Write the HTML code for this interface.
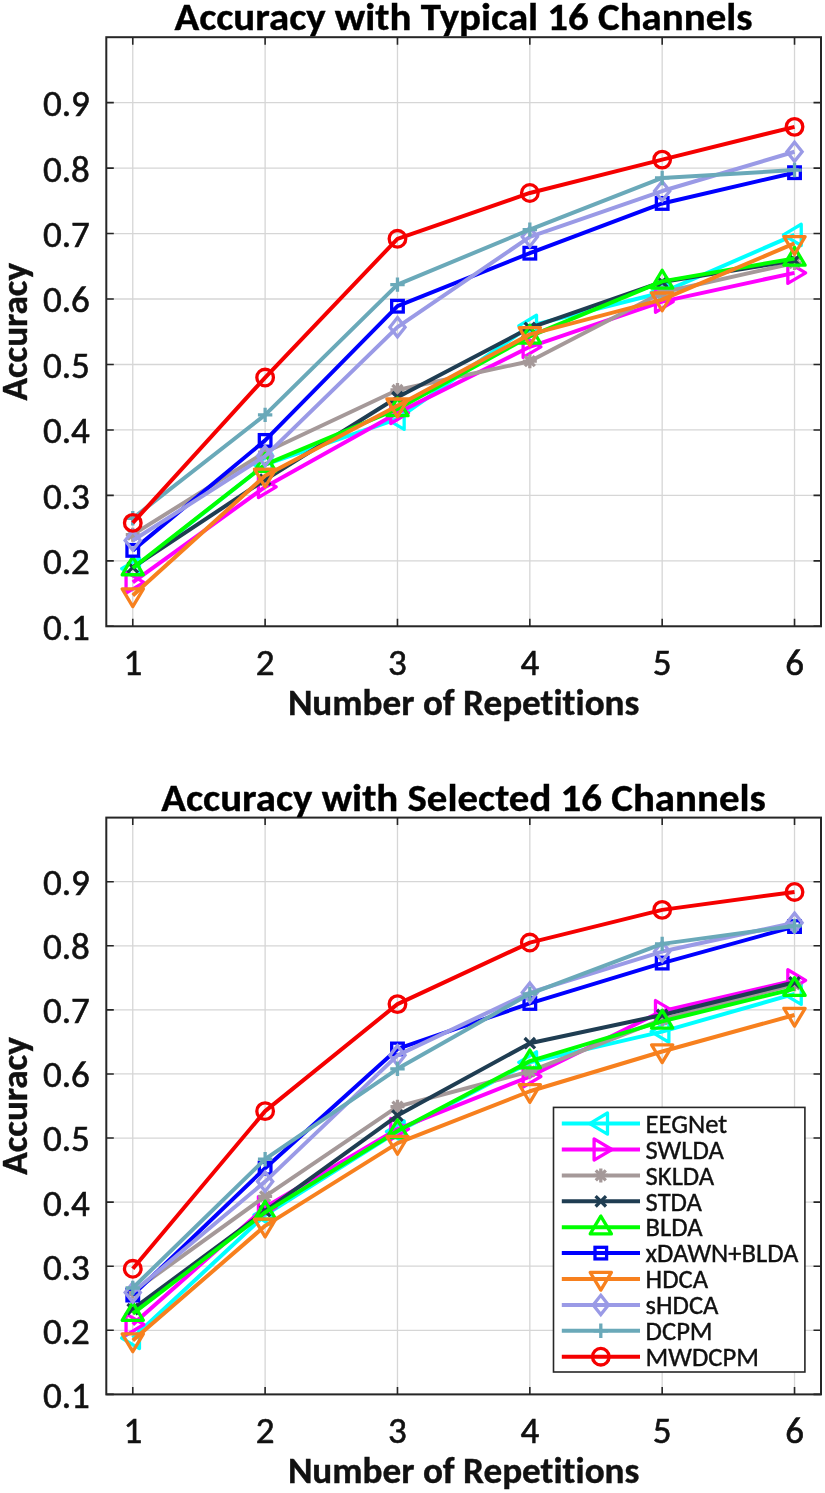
<!DOCTYPE html>
<html><head><meta charset="utf-8"><title>Accuracy plots</title>
<style>html,body{margin:0;padding:0;background:#fff;width:825px;height:1493px;overflow:hidden}svg{display:block}</style>
</head><body>
<svg width="825" height="1493" viewBox="0 0 825 1493">
<rect width="825" height="1493" fill="#fff"/>
<path d="M132.77 37.2V626.3M265.12 37.2V626.3M397.47 37.2V626.3M529.83 37.2V626.3M662.18 37.2V626.3M794.53 37.2V626.3M106.3 626.3H821M106.3 560.84H821M106.3 495.39H821M106.3 429.93H821M106.3 364.48H821M106.3 299.02H821M106.3 233.57H821M106.3 168.11H821M106.3 102.66H821" stroke="#d6d6d6" stroke-width="1.3" fill="none"/>
<g fill="none" stroke-linecap="butt">
<path d="M132.77 568.7L265.12 464.62L397.47 418.81L529.83 325.86L662.18 292.48L794.53 234.88" stroke="#00ffff" stroke-width="4.0" stroke-linejoin="round"/>
<path d="M139.47 558.1L139.47 579.3L121.67 568.7Z" stroke="#00ffff" stroke-width="3.3" fill="none" stroke-linejoin="round"/>
<path d="M271.82 454.02L271.82 475.22L254.02 464.62Z" stroke="#00ffff" stroke-width="3.3" fill="none" stroke-linejoin="round"/>
<path d="M404.17 408.21L404.17 429.41L386.37 418.81Z" stroke="#00ffff" stroke-width="3.3" fill="none" stroke-linejoin="round"/>
<path d="M536.53 315.26L536.53 336.46L518.73 325.86Z" stroke="#00ffff" stroke-width="3.3" fill="none" stroke-linejoin="round"/>
<path d="M668.88 281.88L668.88 303.08L651.08 292.48Z" stroke="#00ffff" stroke-width="3.3" fill="none" stroke-linejoin="round"/>
<path d="M801.23 224.28L801.23 245.48L783.43 234.88Z" stroke="#00ffff" stroke-width="3.3" fill="none" stroke-linejoin="round"/>
<path d="M132.77 582.44L265.12 486.88L397.47 412.91L529.83 346.8L662.18 301.64L794.53 272.84" stroke="#ff00ff" stroke-width="4.0" stroke-linejoin="round"/>
<path d="M126.07 571.84L126.07 593.04L143.87 582.44Z" stroke="#ff00ff" stroke-width="3.3" fill="none" stroke-linejoin="round"/>
<path d="M258.42 476.28L258.42 497.48L276.22 486.88Z" stroke="#ff00ff" stroke-width="3.3" fill="none" stroke-linejoin="round"/>
<path d="M390.77 402.31L390.77 423.51L408.57 412.91Z" stroke="#ff00ff" stroke-width="3.3" fill="none" stroke-linejoin="round"/>
<path d="M523.13 336.2L523.13 357.4L540.93 346.8Z" stroke="#ff00ff" stroke-width="3.3" fill="none" stroke-linejoin="round"/>
<path d="M655.48 291.04L655.48 312.24L673.28 301.64Z" stroke="#ff00ff" stroke-width="3.3" fill="none" stroke-linejoin="round"/>
<path d="M787.83 262.24L787.83 283.44L805.63 272.84Z" stroke="#ff00ff" stroke-width="3.3" fill="none" stroke-linejoin="round"/>
<path d="M132.77 534.66L265.12 452.19L397.47 390.01L529.83 361.2L662.18 292.48L794.53 263.02" stroke="#a59999" stroke-width="4.0" stroke-linejoin="round"/>
<path d="M125.77 534.66H139.77M132.77 527.66V541.66M127.77 529.66L137.77 539.66M127.77 539.66L137.77 529.66" stroke="#a59999" stroke-width="3.3" fill="none"/>
<path d="M258.12 452.19H272.12M265.12 445.19V459.19M260.12 447.19L270.12 457.19M260.12 457.19L270.12 447.19" stroke="#a59999" stroke-width="3.3" fill="none"/>
<path d="M390.47 390.01H404.47M397.47 383.01V397.01M392.47 385.01L402.47 395.01M392.47 395.01L402.47 385.01" stroke="#a59999" stroke-width="3.3" fill="none"/>
<path d="M522.83 361.2H536.83M529.83 354.2V368.2M524.83 356.2L534.83 366.2M524.83 366.2L534.83 356.2" stroke="#a59999" stroke-width="3.3" fill="none"/>
<path d="M655.18 292.48H669.18M662.18 285.48V299.48M657.18 287.48L667.18 297.48M657.18 297.48L667.18 287.48" stroke="#a59999" stroke-width="3.3" fill="none"/>
<path d="M787.53 263.02H801.53M794.53 256.02V270.02M789.53 258.02L799.53 268.02M789.53 268.02L799.53 258.02" stroke="#a59999" stroke-width="3.3" fill="none"/>
<path d="M132.77 567.39L265.12 479.68L397.47 397.21L529.83 327.82L662.18 282L794.53 260.4" stroke="#1f3d52" stroke-width="4.0" stroke-linejoin="round"/>
<path d="M127.57 562.19L137.97 572.59M127.57 572.59L137.97 562.19" stroke="#1f3d52" stroke-width="3.3" fill="none"/>
<path d="M259.92 474.48L270.32 484.88M259.92 484.88L270.32 474.48" stroke="#1f3d52" stroke-width="3.3" fill="none"/>
<path d="M392.27 392.01L402.67 402.41M392.27 402.41L402.67 392.01" stroke="#1f3d52" stroke-width="3.3" fill="none"/>
<path d="M524.63 322.62L535.03 333.02M524.63 333.02L535.03 322.62" stroke="#1f3d52" stroke-width="3.3" fill="none"/>
<path d="M656.98 276.8L667.38 287.2M656.98 287.2L667.38 276.8" stroke="#1f3d52" stroke-width="3.3" fill="none"/>
<path d="M789.33 255.2L799.73 265.6M789.33 265.6L799.73 255.2" stroke="#1f3d52" stroke-width="3.3" fill="none"/>
<path d="M132.77 568.04L265.12 464.62L397.47 408.99L529.83 336.33L662.18 281.35L794.53 258.44" stroke="#00ff00" stroke-width="4.0" stroke-linejoin="round"/>
<path d="M122.17 574.74L143.37 574.74L132.77 556.94Z" stroke="#00ff00" stroke-width="3.3" fill="none" stroke-linejoin="round"/>
<path d="M254.52 471.32L275.72 471.32L265.12 453.52Z" stroke="#00ff00" stroke-width="3.3" fill="none" stroke-linejoin="round"/>
<path d="M386.87 415.69L408.07 415.69L397.47 397.89Z" stroke="#00ff00" stroke-width="3.3" fill="none" stroke-linejoin="round"/>
<path d="M519.23 343.03L540.43 343.03L529.83 325.23Z" stroke="#00ff00" stroke-width="3.3" fill="none" stroke-linejoin="round"/>
<path d="M651.58 288.05L672.78 288.05L662.18 270.25Z" stroke="#00ff00" stroke-width="3.3" fill="none" stroke-linejoin="round"/>
<path d="M783.93 265.14L805.13 265.14L794.53 247.34Z" stroke="#00ff00" stroke-width="3.3" fill="none" stroke-linejoin="round"/>
<path d="M132.77 550.37L265.12 440.41L397.47 306.22L529.83 253.2L662.18 203.46L794.53 172.69" stroke="#0000ff" stroke-width="4.0" stroke-linejoin="round"/>
<rect x="126.97" y="544.57" width="11.6" height="11.6" stroke="#0000ff" stroke-width="3.3" fill="none"/>
<rect x="259.32" y="434.61" width="11.6" height="11.6" stroke="#0000ff" stroke-width="3.3" fill="none"/>
<rect x="391.67" y="300.42" width="11.6" height="11.6" stroke="#0000ff" stroke-width="3.3" fill="none"/>
<rect x="524.03" y="247.4" width="11.6" height="11.6" stroke="#0000ff" stroke-width="3.3" fill="none"/>
<rect x="656.38" y="197.66" width="11.6" height="11.6" stroke="#0000ff" stroke-width="3.3" fill="none"/>
<rect x="788.73" y="166.89" width="11.6" height="11.6" stroke="#0000ff" stroke-width="3.3" fill="none"/>
<path d="M132.77 595.54L265.12 475.75L397.47 405.71L529.83 334.37L662.18 299.68L794.53 243.38" stroke="#f7801e" stroke-width="4.0" stroke-linejoin="round"/>
<path d="M122.17 588.84L143.37 588.84L132.77 606.64Z" stroke="#f7801e" stroke-width="3.3" fill="none" stroke-linejoin="round"/>
<path d="M254.52 469.05L275.72 469.05L265.12 486.85Z" stroke="#f7801e" stroke-width="3.3" fill="none" stroke-linejoin="round"/>
<path d="M386.87 399.01L408.07 399.01L397.47 416.81Z" stroke="#f7801e" stroke-width="3.3" fill="none" stroke-linejoin="round"/>
<path d="M519.23 327.67L540.43 327.67L529.83 345.47Z" stroke="#f7801e" stroke-width="3.3" fill="none" stroke-linejoin="round"/>
<path d="M651.58 292.98L672.78 292.98L662.18 310.78Z" stroke="#f7801e" stroke-width="3.3" fill="none" stroke-linejoin="round"/>
<path d="M783.93 236.68L805.13 236.68L794.53 254.48Z" stroke="#f7801e" stroke-width="3.3" fill="none" stroke-linejoin="round"/>
<path d="M132.77 540.55L265.12 456.12L397.47 327.17L529.83 236.84L662.18 191.02L794.53 151.75" stroke="#9a9ae6" stroke-width="4.0" stroke-linejoin="round"/>
<path d="M132.77 530.95L140.37 540.55L132.77 550.15L125.17 540.55Z" stroke="#9a9ae6" stroke-width="3.3" fill="none" stroke-linejoin="miter"/>
<path d="M265.12 446.52L272.72 456.12L265.12 465.72L257.52 456.12Z" stroke="#9a9ae6" stroke-width="3.3" fill="none" stroke-linejoin="miter"/>
<path d="M397.47 317.57L405.07 327.17L397.47 336.77L389.87 327.17Z" stroke="#9a9ae6" stroke-width="3.3" fill="none" stroke-linejoin="miter"/>
<path d="M529.83 227.24L537.43 236.84L529.83 246.44L522.23 236.84Z" stroke="#9a9ae6" stroke-width="3.3" fill="none" stroke-linejoin="miter"/>
<path d="M662.18 181.42L669.78 191.02L662.18 200.62L654.58 191.02Z" stroke="#9a9ae6" stroke-width="3.3" fill="none" stroke-linejoin="miter"/>
<path d="M794.53 142.15L802.13 151.75L794.53 161.35L786.93 151.75Z" stroke="#9a9ae6" stroke-width="3.3" fill="none" stroke-linejoin="miter"/>
<path d="M132.77 518.3L265.12 414.88L397.47 284.62L529.83 229.64L662.18 177.93L794.53 170.07" stroke="#6aa9b9" stroke-width="4.0" stroke-linejoin="round"/>
<path d="M125.57 518.3H139.97M132.77 511.1V525.5" stroke="#6aa9b9" stroke-width="3.3" fill="none"/>
<path d="M257.92 414.88H272.32M265.12 407.68V422.08" stroke="#6aa9b9" stroke-width="3.3" fill="none"/>
<path d="M390.27 284.62H404.67M397.47 277.42V291.82" stroke="#6aa9b9" stroke-width="3.3" fill="none"/>
<path d="M522.63 229.64H537.03M529.83 222.44V236.84" stroke="#6aa9b9" stroke-width="3.3" fill="none"/>
<path d="M654.98 177.93H669.38M662.18 170.73V185.13" stroke="#6aa9b9" stroke-width="3.3" fill="none"/>
<path d="M787.33 170.07H801.73M794.53 162.87V177.27" stroke="#6aa9b9" stroke-width="3.3" fill="none"/>
<path d="M132.77 522.88L265.12 377.57L397.47 238.8L529.83 192.98L662.18 159.6L794.53 126.87" stroke="#f50000" stroke-width="4.0" stroke-linejoin="round"/>
<circle cx="132.77" cy="522.88" r="8.3" stroke="#f50000" stroke-width="3.3" fill="none"/>
<circle cx="265.12" cy="377.57" r="8.3" stroke="#f50000" stroke-width="3.3" fill="none"/>
<circle cx="397.47" cy="238.8" r="8.3" stroke="#f50000" stroke-width="3.3" fill="none"/>
<circle cx="529.83" cy="192.98" r="8.3" stroke="#f50000" stroke-width="3.3" fill="none"/>
<circle cx="662.18" cy="159.6" r="8.3" stroke="#f50000" stroke-width="3.3" fill="none"/>
<circle cx="794.53" cy="126.87" r="8.3" stroke="#f50000" stroke-width="3.3" fill="none"/>
</g>
<path d="M132.77 626.3v-7.5M132.77 37.2v7.5M265.12 626.3v-7.5M265.12 37.2v7.5M397.47 626.3v-7.5M397.47 37.2v7.5M529.83 626.3v-7.5M529.83 37.2v7.5M662.18 626.3v-7.5M662.18 37.2v7.5M794.53 626.3v-7.5M794.53 37.2v7.5M106.3 626.3h7.5M821 626.3h-7.5M106.3 560.84h7.5M821 560.84h-7.5M106.3 495.39h7.5M821 495.39h-7.5M106.3 429.93h7.5M821 429.93h-7.5M106.3 364.48h7.5M821 364.48h-7.5M106.3 299.02h7.5M821 299.02h-7.5M106.3 233.57h7.5M821 233.57h-7.5M106.3 168.11h7.5M821 168.11h-7.5M106.3 102.66h7.5M821 102.66h-7.5" stroke="#262626" stroke-width="1.6" fill="none"/>
<rect x="106.3" y="37.2" width="714.7" height="589.1" stroke="#262626" stroke-width="2" fill="none"/>
<g style="font-family:Carlito,'Liberation Sans',sans-serif;font-variant-ligatures:none;font-feature-settings:'liga' 0;font-size:37px" fill="#111" stroke="#111" stroke-width="0.6">
<text x="132.77" y="675.1" text-anchor="middle" textLength="18.77" lengthAdjust="spacingAndGlyphs">1</text>
<text x="265.12" y="675.1" text-anchor="middle" textLength="18.77" lengthAdjust="spacingAndGlyphs">2</text>
<text x="397.47" y="675.1" text-anchor="middle" textLength="18.77" lengthAdjust="spacingAndGlyphs">3</text>
<text x="529.83" y="675.1" text-anchor="middle" textLength="18.77" lengthAdjust="spacingAndGlyphs">4</text>
<text x="662.18" y="675.1" text-anchor="middle" textLength="18.77" lengthAdjust="spacingAndGlyphs">5</text>
<text x="794.53" y="675.1" text-anchor="middle" textLength="18.77" lengthAdjust="spacingAndGlyphs">6</text>
<text x="89.8" y="639.7" text-anchor="end" textLength="46.86" lengthAdjust="spacingAndGlyphs">0.1</text>
<text x="89.8" y="574.24" text-anchor="end" textLength="46.86" lengthAdjust="spacingAndGlyphs">0.2</text>
<text x="89.8" y="508.79" text-anchor="end" textLength="46.86" lengthAdjust="spacingAndGlyphs">0.3</text>
<text x="89.8" y="443.33" text-anchor="end" textLength="46.86" lengthAdjust="spacingAndGlyphs">0.4</text>
<text x="89.8" y="377.88" text-anchor="end" textLength="46.86" lengthAdjust="spacingAndGlyphs">0.5</text>
<text x="89.8" y="312.42" text-anchor="end" textLength="46.86" lengthAdjust="spacingAndGlyphs">0.6</text>
<text x="89.8" y="246.97" text-anchor="end" textLength="46.86" lengthAdjust="spacingAndGlyphs">0.7</text>
<text x="89.8" y="181.51" text-anchor="end" textLength="46.86" lengthAdjust="spacingAndGlyphs">0.8</text>
<text x="89.8" y="116.06" text-anchor="end" textLength="46.86" lengthAdjust="spacingAndGlyphs">0.9</text>
</g>
<text x="463.65" y="715.2" text-anchor="middle" style="font-family:Carlito,'Liberation Sans',sans-serif;font-variant-ligatures:none;font-feature-settings:'liga' 0;font-size:37.2px;font-weight:bold" fill="#111" stroke="#111" stroke-width="0.4" textLength="351.55" lengthAdjust="spacingAndGlyphs">Number of Repetitions</text>
<text transform="translate(27,331.75) rotate(-90)" x="0" y="0" text-anchor="middle" style="font-family:Carlito,'Liberation Sans',sans-serif;font-variant-ligatures:none;font-feature-settings:'liga' 0;font-size:37.2px;font-weight:bold" fill="#111" stroke="#111" stroke-width="0.4" textLength="137.55" lengthAdjust="spacingAndGlyphs">Accuracy</text>
<text transform="translate(463.5,30.3) scale(1,0.95)" x="0" y="0" text-anchor="middle" style="font-family:Carlito,'Liberation Sans',sans-serif;font-variant-ligatures:none;font-feature-settings:'liga' 0;font-size:40.9px;font-weight:bold" fill="#000" stroke="#000" stroke-width="0.4" textLength="578.24" lengthAdjust="spacingAndGlyphs">Accuracy with Typical 16 Channels</text>
<path d="M132.77 817.6V1394.4M265.12 817.6V1394.4M397.47 817.6V1394.4M529.83 817.6V1394.4M662.18 817.6V1394.4M794.53 817.6V1394.4M106.3 1394.4H821M106.3 1330.31H821M106.3 1266.22H821M106.3 1202.13H821M106.3 1138.04H821M106.3 1073.96H821M106.3 1009.87H821M106.3 945.78H821M106.3 881.69H821" stroke="#d6d6d6" stroke-width="1.3" fill="none"/>
<g fill="none" stroke-linecap="butt">
<path d="M132.77 1338L265.12 1214.95L397.47 1131.64L529.83 1062.42L662.18 1031.66L794.53 993.84" stroke="#00ffff" stroke-width="4.0" stroke-linejoin="round"/>
<path d="M139.47 1327.4L139.47 1348.6L121.67 1338Z" stroke="#00ffff" stroke-width="3.3" fill="none" stroke-linejoin="round"/>
<path d="M271.82 1204.35L271.82 1225.55L254.02 1214.95Z" stroke="#00ffff" stroke-width="3.3" fill="none" stroke-linejoin="round"/>
<path d="M404.17 1121.04L404.17 1142.24L386.37 1131.64Z" stroke="#00ffff" stroke-width="3.3" fill="none" stroke-linejoin="round"/>
<path d="M536.53 1051.82L536.53 1073.02L518.73 1062.42Z" stroke="#00ffff" stroke-width="3.3" fill="none" stroke-linejoin="round"/>
<path d="M668.88 1021.06L668.88 1042.26L651.08 1031.66Z" stroke="#00ffff" stroke-width="3.3" fill="none" stroke-linejoin="round"/>
<path d="M801.23 983.24L801.23 1004.44L783.43 993.84Z" stroke="#00ffff" stroke-width="3.3" fill="none" stroke-linejoin="round"/>
<path d="M132.77 1324.54L265.12 1207.26L397.47 1129.07L529.83 1076.52L662.18 1011.15L794.53 980.39" stroke="#ff00ff" stroke-width="4.0" stroke-linejoin="round"/>
<path d="M126.07 1313.94L126.07 1335.14L143.87 1324.54Z" stroke="#ff00ff" stroke-width="3.3" fill="none" stroke-linejoin="round"/>
<path d="M258.42 1196.66L258.42 1217.86L276.22 1207.26Z" stroke="#ff00ff" stroke-width="3.3" fill="none" stroke-linejoin="round"/>
<path d="M390.77 1118.47L390.77 1139.67L408.57 1129.07Z" stroke="#ff00ff" stroke-width="3.3" fill="none" stroke-linejoin="round"/>
<path d="M523.13 1065.92L523.13 1087.12L540.93 1076.52Z" stroke="#ff00ff" stroke-width="3.3" fill="none" stroke-linejoin="round"/>
<path d="M655.48 1000.55L655.48 1021.75L673.28 1011.15Z" stroke="#ff00ff" stroke-width="3.3" fill="none" stroke-linejoin="round"/>
<path d="M787.83 969.79L787.83 990.99L805.63 980.39Z" stroke="#ff00ff" stroke-width="3.3" fill="none" stroke-linejoin="round"/>
<path d="M132.77 1291.86L265.12 1196.37L397.47 1106.64L529.83 1071.39L662.18 1019.48L794.53 984.23" stroke="#a59999" stroke-width="4.0" stroke-linejoin="round"/>
<path d="M125.77 1291.86H139.77M132.77 1284.86V1298.86M127.77 1286.86L137.77 1296.86M127.77 1296.86L137.77 1286.86" stroke="#a59999" stroke-width="3.3" fill="none"/>
<path d="M258.12 1196.37H272.12M265.12 1189.37V1203.37M260.12 1191.37L270.12 1201.37M260.12 1201.37L270.12 1191.37" stroke="#a59999" stroke-width="3.3" fill="none"/>
<path d="M390.47 1106.64H404.47M397.47 1099.64V1113.64M392.47 1101.64L402.47 1111.64M392.47 1111.64L402.47 1101.64" stroke="#a59999" stroke-width="3.3" fill="none"/>
<path d="M522.83 1071.39H536.83M529.83 1064.39V1078.39M524.83 1066.39L534.83 1076.39M524.83 1076.39L534.83 1066.39" stroke="#a59999" stroke-width="3.3" fill="none"/>
<path d="M655.18 1019.48H669.18M662.18 1012.48V1026.48M657.18 1014.48L667.18 1024.48M657.18 1024.48L667.18 1014.48" stroke="#a59999" stroke-width="3.3" fill="none"/>
<path d="M787.53 984.23H801.53M794.53 977.23V991.23M789.53 979.23L799.53 989.23M789.53 989.23L799.53 979.23" stroke="#a59999" stroke-width="3.3" fill="none"/>
<path d="M132.77 1309.16L265.12 1211.11L397.47 1115.61L529.83 1043.19L662.18 1014.99L794.53 982.31" stroke="#1f3d52" stroke-width="4.0" stroke-linejoin="round"/>
<path d="M127.57 1303.96L137.97 1314.36M127.57 1314.36L137.97 1303.96" stroke="#1f3d52" stroke-width="3.3" fill="none"/>
<path d="M259.92 1205.91L270.32 1216.31M259.92 1216.31L270.32 1205.91" stroke="#1f3d52" stroke-width="3.3" fill="none"/>
<path d="M392.27 1110.41L402.67 1120.81M392.27 1120.81L402.67 1110.41" stroke="#1f3d52" stroke-width="3.3" fill="none"/>
<path d="M524.63 1037.99L535.03 1048.39M524.63 1048.39L535.03 1037.99" stroke="#1f3d52" stroke-width="3.3" fill="none"/>
<path d="M656.98 1009.79L667.38 1020.19M656.98 1020.19L667.38 1009.79" stroke="#1f3d52" stroke-width="3.3" fill="none"/>
<path d="M789.33 977.11L799.73 987.51M789.33 987.51L799.73 977.11" stroke="#1f3d52" stroke-width="3.3" fill="none"/>
<path d="M132.77 1313.65L265.12 1212.39L397.47 1130.99L529.83 1061.14L662.18 1021.4L794.53 988.72" stroke="#00ff00" stroke-width="4.0" stroke-linejoin="round"/>
<path d="M122.17 1320.35L143.37 1320.35L132.77 1302.55Z" stroke="#00ff00" stroke-width="3.3" fill="none" stroke-linejoin="round"/>
<path d="M254.52 1219.09L275.72 1219.09L265.12 1201.29Z" stroke="#00ff00" stroke-width="3.3" fill="none" stroke-linejoin="round"/>
<path d="M386.87 1137.69L408.07 1137.69L397.47 1119.89Z" stroke="#00ff00" stroke-width="3.3" fill="none" stroke-linejoin="round"/>
<path d="M519.23 1067.84L540.43 1067.84L529.83 1050.04Z" stroke="#00ff00" stroke-width="3.3" fill="none" stroke-linejoin="round"/>
<path d="M651.58 1028.1L672.78 1028.1L662.18 1010.3Z" stroke="#00ff00" stroke-width="3.3" fill="none" stroke-linejoin="round"/>
<path d="M783.93 995.42L805.13 995.42L794.53 977.62Z" stroke="#00ff00" stroke-width="3.3" fill="none" stroke-linejoin="round"/>
<path d="M132.77 1295.06L265.12 1168.17L397.47 1048.96L529.83 1003.46L662.18 963.08L794.53 926.55" stroke="#0000ff" stroke-width="4.0" stroke-linejoin="round"/>
<rect x="126.97" y="1289.26" width="11.6" height="11.6" stroke="#0000ff" stroke-width="3.3" fill="none"/>
<rect x="259.32" y="1162.37" width="11.6" height="11.6" stroke="#0000ff" stroke-width="3.3" fill="none"/>
<rect x="391.67" y="1043.16" width="11.6" height="11.6" stroke="#0000ff" stroke-width="3.3" fill="none"/>
<rect x="524.03" y="997.66" width="11.6" height="11.6" stroke="#0000ff" stroke-width="3.3" fill="none"/>
<rect x="656.38" y="957.28" width="11.6" height="11.6" stroke="#0000ff" stroke-width="3.3" fill="none"/>
<rect x="788.73" y="920.75" width="11.6" height="11.6" stroke="#0000ff" stroke-width="3.3" fill="none"/>
<path d="M132.77 1340.57L265.12 1225.85L397.47 1143.17L529.83 1091.26L662.18 1051.52L794.53 1014.99" stroke="#f7801e" stroke-width="4.0" stroke-linejoin="round"/>
<path d="M122.17 1333.87L143.37 1333.87L132.77 1351.67Z" stroke="#f7801e" stroke-width="3.3" fill="none" stroke-linejoin="round"/>
<path d="M254.52 1219.15L275.72 1219.15L265.12 1236.95Z" stroke="#f7801e" stroke-width="3.3" fill="none" stroke-linejoin="round"/>
<path d="M386.87 1136.47L408.07 1136.47L397.47 1154.27Z" stroke="#f7801e" stroke-width="3.3" fill="none" stroke-linejoin="round"/>
<path d="M519.23 1084.56L540.43 1084.56L529.83 1102.36Z" stroke="#f7801e" stroke-width="3.3" fill="none" stroke-linejoin="round"/>
<path d="M651.58 1044.82L672.78 1044.82L662.18 1062.62Z" stroke="#f7801e" stroke-width="3.3" fill="none" stroke-linejoin="round"/>
<path d="M783.93 1008.29L805.13 1008.29L794.53 1026.09Z" stroke="#f7801e" stroke-width="3.3" fill="none" stroke-linejoin="round"/>
<path d="M132.77 1292.5L265.12 1181.62L397.47 1055.37L529.83 992.56L662.18 951.55L794.53 922.71" stroke="#9a9ae6" stroke-width="4.0" stroke-linejoin="round"/>
<path d="M132.77 1282.9L140.37 1292.5L132.77 1302.1L125.17 1292.5Z" stroke="#9a9ae6" stroke-width="3.3" fill="none" stroke-linejoin="miter"/>
<path d="M265.12 1172.02L272.72 1181.62L265.12 1191.22L257.52 1181.62Z" stroke="#9a9ae6" stroke-width="3.3" fill="none" stroke-linejoin="miter"/>
<path d="M397.47 1045.77L405.07 1055.37L397.47 1064.97L389.87 1055.37Z" stroke="#9a9ae6" stroke-width="3.3" fill="none" stroke-linejoin="miter"/>
<path d="M529.83 982.96L537.43 992.56L529.83 1002.16L522.23 992.56Z" stroke="#9a9ae6" stroke-width="3.3" fill="none" stroke-linejoin="miter"/>
<path d="M662.18 941.95L669.78 951.55L662.18 961.15L654.58 951.55Z" stroke="#9a9ae6" stroke-width="3.3" fill="none" stroke-linejoin="miter"/>
<path d="M794.53 913.11L802.13 922.71L794.53 932.31L786.93 922.71Z" stroke="#9a9ae6" stroke-width="3.3" fill="none" stroke-linejoin="miter"/>
<path d="M132.77 1288.01L265.12 1159.19L397.47 1068.83L529.83 993.84L662.18 943.86L794.53 925.91" stroke="#6aa9b9" stroke-width="4.0" stroke-linejoin="round"/>
<path d="M125.57 1288.01H139.97M132.77 1280.81V1295.21" stroke="#6aa9b9" stroke-width="3.3" fill="none"/>
<path d="M257.92 1159.19H272.32M265.12 1151.99V1166.39" stroke="#6aa9b9" stroke-width="3.3" fill="none"/>
<path d="M390.27 1068.83H404.67M397.47 1061.63V1076.03" stroke="#6aa9b9" stroke-width="3.3" fill="none"/>
<path d="M522.63 993.84H537.03M529.83 986.64V1001.04" stroke="#6aa9b9" stroke-width="3.3" fill="none"/>
<path d="M654.98 943.86H669.38M662.18 936.66V951.06" stroke="#6aa9b9" stroke-width="3.3" fill="none"/>
<path d="M787.33 925.91H801.73M794.53 918.71V933.11" stroke="#6aa9b9" stroke-width="3.3" fill="none"/>
<path d="M132.77 1268.79L265.12 1111.13L397.47 1004.1L529.83 942.57L662.18 909.89L794.53 891.94" stroke="#f50000" stroke-width="4.0" stroke-linejoin="round"/>
<circle cx="132.77" cy="1268.79" r="8.3" stroke="#f50000" stroke-width="3.3" fill="none"/>
<circle cx="265.12" cy="1111.13" r="8.3" stroke="#f50000" stroke-width="3.3" fill="none"/>
<circle cx="397.47" cy="1004.1" r="8.3" stroke="#f50000" stroke-width="3.3" fill="none"/>
<circle cx="529.83" cy="942.57" r="8.3" stroke="#f50000" stroke-width="3.3" fill="none"/>
<circle cx="662.18" cy="909.89" r="8.3" stroke="#f50000" stroke-width="3.3" fill="none"/>
<circle cx="794.53" cy="891.94" r="8.3" stroke="#f50000" stroke-width="3.3" fill="none"/>
</g>
<path d="M132.77 1394.4v-7.5M132.77 817.6v7.5M265.12 1394.4v-7.5M265.12 817.6v7.5M397.47 1394.4v-7.5M397.47 817.6v7.5M529.83 1394.4v-7.5M529.83 817.6v7.5M662.18 1394.4v-7.5M662.18 817.6v7.5M794.53 1394.4v-7.5M794.53 817.6v7.5M106.3 1394.4h7.5M821 1394.4h-7.5M106.3 1330.31h7.5M821 1330.31h-7.5M106.3 1266.22h7.5M821 1266.22h-7.5M106.3 1202.13h7.5M821 1202.13h-7.5M106.3 1138.04h7.5M821 1138.04h-7.5M106.3 1073.96h7.5M821 1073.96h-7.5M106.3 1009.87h7.5M821 1009.87h-7.5M106.3 945.78h7.5M821 945.78h-7.5M106.3 881.69h7.5M821 881.69h-7.5" stroke="#262626" stroke-width="1.6" fill="none"/>
<rect x="106.3" y="817.6" width="714.7" height="576.8" stroke="#262626" stroke-width="2" fill="none"/>
<g style="font-family:Carlito,'Liberation Sans',sans-serif;font-variant-ligatures:none;font-feature-settings:'liga' 0;font-size:37px" fill="#111" stroke="#111" stroke-width="0.6">
<text x="132.77" y="1443.2" text-anchor="middle" textLength="18.77" lengthAdjust="spacingAndGlyphs">1</text>
<text x="265.12" y="1443.2" text-anchor="middle" textLength="18.77" lengthAdjust="spacingAndGlyphs">2</text>
<text x="397.47" y="1443.2" text-anchor="middle" textLength="18.77" lengthAdjust="spacingAndGlyphs">3</text>
<text x="529.83" y="1443.2" text-anchor="middle" textLength="18.77" lengthAdjust="spacingAndGlyphs">4</text>
<text x="662.18" y="1443.2" text-anchor="middle" textLength="18.77" lengthAdjust="spacingAndGlyphs">5</text>
<text x="794.53" y="1443.2" text-anchor="middle" textLength="18.77" lengthAdjust="spacingAndGlyphs">6</text>
<text x="89.8" y="1407.8" text-anchor="end" textLength="46.86" lengthAdjust="spacingAndGlyphs">0.1</text>
<text x="89.8" y="1343.71" text-anchor="end" textLength="46.86" lengthAdjust="spacingAndGlyphs">0.2</text>
<text x="89.8" y="1279.62" text-anchor="end" textLength="46.86" lengthAdjust="spacingAndGlyphs">0.3</text>
<text x="89.8" y="1215.53" text-anchor="end" textLength="46.86" lengthAdjust="spacingAndGlyphs">0.4</text>
<text x="89.8" y="1151.44" text-anchor="end" textLength="46.86" lengthAdjust="spacingAndGlyphs">0.5</text>
<text x="89.8" y="1087.36" text-anchor="end" textLength="46.86" lengthAdjust="spacingAndGlyphs">0.6</text>
<text x="89.8" y="1023.27" text-anchor="end" textLength="46.86" lengthAdjust="spacingAndGlyphs">0.7</text>
<text x="89.8" y="959.18" text-anchor="end" textLength="46.86" lengthAdjust="spacingAndGlyphs">0.8</text>
<text x="89.8" y="895.09" text-anchor="end" textLength="46.86" lengthAdjust="spacingAndGlyphs">0.9</text>
</g>
<text x="463.65" y="1483" text-anchor="middle" style="font-family:Carlito,'Liberation Sans',sans-serif;font-variant-ligatures:none;font-feature-settings:'liga' 0;font-size:37.2px;font-weight:bold" fill="#111" stroke="#111" stroke-width="0.4" textLength="351.55" lengthAdjust="spacingAndGlyphs">Number of Repetitions</text>
<text transform="translate(27,1106) rotate(-90)" x="0" y="0" text-anchor="middle" style="font-family:Carlito,'Liberation Sans',sans-serif;font-variant-ligatures:none;font-feature-settings:'liga' 0;font-size:37.2px;font-weight:bold" fill="#111" stroke="#111" stroke-width="0.4" textLength="137.55" lengthAdjust="spacingAndGlyphs">Accuracy</text>
<text transform="translate(463.5,810.6) scale(1,0.95)" x="0" y="0" text-anchor="middle" style="font-family:Carlito,'Liberation Sans',sans-serif;font-variant-ligatures:none;font-feature-settings:'liga' 0;font-size:40.9px;font-weight:bold" fill="#000" stroke="#000" stroke-width="0.4" textLength="604.66" lengthAdjust="spacingAndGlyphs">Accuracy with Selected 16 Channels</text>
<rect x="553.5" y="1107.4" width="251.4" height="264.6" fill="#fff" stroke="#262626" stroke-width="1.6"/>
<g fill="none">
<path d="M561.8 1123.6H640" stroke="#00ffff" stroke-width="4.0"/>
<path d="M607.5 1113L607.5 1134.2L589.7 1123.6Z" stroke="#00ffff" stroke-width="3.3" fill="none" stroke-linejoin="round"/>
<path d="M561.8 1149.5H640" stroke="#ff00ff" stroke-width="4.0"/>
<path d="M594.1 1138.9L594.1 1160.1L611.9 1149.5Z" stroke="#ff00ff" stroke-width="3.3" fill="none" stroke-linejoin="round"/>
<path d="M561.8 1175.4H640" stroke="#a59999" stroke-width="4.0"/>
<path d="M593.8 1175.4H607.8M600.8 1168.4V1182.4M595.8 1170.4L605.8 1180.4M595.8 1180.4L605.8 1170.4" stroke="#a59999" stroke-width="3.3" fill="none"/>
<path d="M561.8 1201.3H640" stroke="#1f3d52" stroke-width="4.0"/>
<path d="M595.6 1196.1L606 1206.5M595.6 1206.5L606 1196.1" stroke="#1f3d52" stroke-width="3.3" fill="none"/>
<path d="M561.8 1227.2H640" stroke="#00ff00" stroke-width="4.0"/>
<path d="M590.2 1233.9L611.4 1233.9L600.8 1216.1Z" stroke="#00ff00" stroke-width="3.3" fill="none" stroke-linejoin="round"/>
<path d="M561.8 1253.1H640" stroke="#0000ff" stroke-width="4.0"/>
<rect x="595" y="1247.3" width="11.6" height="11.6" stroke="#0000ff" stroke-width="3.3" fill="none"/>
<path d="M561.8 1279H640" stroke="#f7801e" stroke-width="4.0"/>
<path d="M590.2 1272.3L611.4 1272.3L600.8 1290.1Z" stroke="#f7801e" stroke-width="3.3" fill="none" stroke-linejoin="round"/>
<path d="M561.8 1304.9H640" stroke="#9a9ae6" stroke-width="4.0"/>
<path d="M600.8 1295.3L608.4 1304.9L600.8 1314.5L593.2 1304.9Z" stroke="#9a9ae6" stroke-width="3.3" fill="none" stroke-linejoin="miter"/>
<path d="M561.8 1330.8H640" stroke="#6aa9b9" stroke-width="4.0"/>
<path d="M593.6 1330.8H608M600.8 1323.6V1338" stroke="#6aa9b9" stroke-width="3.3" fill="none"/>
<path d="M561.8 1356.7H640" stroke="#f50000" stroke-width="4.0"/>
<circle cx="600.8" cy="1356.7" r="8.3" stroke="#f50000" stroke-width="3.3" fill="none"/>
</g>
<g style="font-family:Carlito,'Liberation Sans',sans-serif;font-variant-ligatures:none;font-feature-settings:'liga' 0;font-size:26.6px" fill="#111" stroke="#111" stroke-width="0.4">
<text x="645.6" y="1132.8" textLength="81.61" lengthAdjust="spacingAndGlyphs">EEGNet</text>
<text x="645.6" y="1158.7" textLength="78.23" lengthAdjust="spacingAndGlyphs">SWLDA</text>
<text x="645.6" y="1184.6" textLength="68.58" lengthAdjust="spacingAndGlyphs">SKLDA</text>
<text x="645.6" y="1210.5" textLength="56.36" lengthAdjust="spacingAndGlyphs">STDA</text>
<text x="645.6" y="1236.4" textLength="57.02" lengthAdjust="spacingAndGlyphs">BLDA</text>
<text x="645.6" y="1262.3" textLength="152.92" lengthAdjust="spacingAndGlyphs">xDAWN+BLDA</text>
<text x="645.6" y="1288.2" textLength="62.5" lengthAdjust="spacingAndGlyphs">HDCA</text>
<text x="645.6" y="1314.1" textLength="72.91" lengthAdjust="spacingAndGlyphs">sHDCA</text>
<text x="645.6" y="1340" textLength="67.03" lengthAdjust="spacingAndGlyphs">DCPM</text>
<text x="645.6" y="1365.9" textLength="113.42" lengthAdjust="spacingAndGlyphs">MWDCPM</text>
</g>
</svg>
</body></html>
